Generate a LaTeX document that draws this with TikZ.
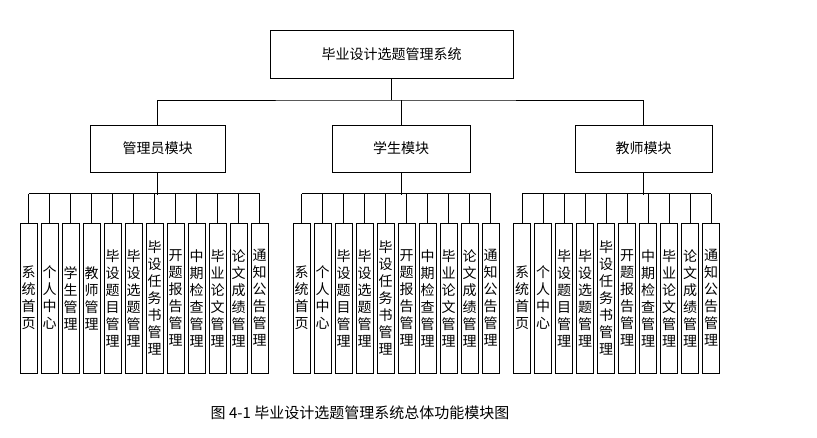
\documentclass[tikz,border=0pt]{standalone}
\usepackage{fontspec}
\setmainfont{Liberation Serif}
\newfontfamily\cjk{Noto Sans CJK SC}
\begin{document}
\begin{tikzpicture}[x=1pt,y=-1pt,
  box/.style={draw,line width=0.8pt,inner sep=0,font=\cjk\fontsize{14}{16}\selectfont},
  leaf/.style={draw,line width=0.8pt,minimum width=17pt,minimum height=150pt,inner sep=0,align=center,font=\cjk\fontsize{14}{17}\selectfont},
  ln/.style={line width=0.8pt}]
\useasboundingbox (0,0) rectangle (817,438);
\fill[white] (0,0) rectangle (817,438);
\node[box,minimum width=243pt,minimum height=48pt] (root) at (391.5,54) {毕业设计选题管理系统};
\node[box,minimum width=135pt,minimum height=47pt] (m1) at (157.5,148.5) {管理员模块};
\node[box,minimum width=138pt,minimum height=47pt] (m2) at (401,148.5) {学生模块};
\node[box,minimum width=137pt,minimum height=47pt] (m3) at (643.5,148.5) {教师模块};
\coordinate (b) at (391.5,100);
\draw[ln] (root.south) -- (b);
\draw[ln] (m1.north) |- (b) -| (m3.north);
\draw[ln] (m2.north) -- (m2.north |- b);
\newcommand\leafgroup[4]{% module, start x, count, prefix
  \foreach \i in {1,...,#3}{%
    \pgfmathsetmacro\xx{#2+21*(\i-1)}%
    \ifnum#3=12 \pgfmathtruncatemacro\k{\i-1}\else
      \pgfmathtruncatemacro\k{\i<3 ? \i-1 : \i+1}\fi
    \node[leaf] (#4\i) at (\xx,298) {\csname lbl\k\endcsname};
    \draw[ln] (#4\i.north) -- ++(0,-29);
  }
  \draw[ln] (#1.south) -- ++(0,23);
  \draw[ln] ([yshift=29pt]#41.north) -- ([yshift=29pt]#4#3.north);
}
\expandafter\def\csname lbl0\endcsname{系\\统\\首\\页}
\expandafter\def\csname lbl1\endcsname{个\\人\\中\\心}
\expandafter\def\csname lbl2\endcsname{学\\生\\管\\理}
\expandafter\def\csname lbl3\endcsname{教\\师\\管\\理}
\expandafter\def\csname lbl4\endcsname{毕\\设\\题\\目\\管\\理}
\expandafter\def\csname lbl5\endcsname{毕\\设\\选\\题\\管\\理}
\expandafter\def\csname lbl6\endcsname{毕\\设\\任\\务\\书\\管\\理}
\expandafter\def\csname lbl7\endcsname{开\\题\\报\\告\\管\\理}
\expandafter\def\csname lbl8\endcsname{中\\期\\检\\查\\管\\理}
\expandafter\def\csname lbl9\endcsname{毕\\业\\论\\文\\管\\理}
\expandafter\def\csname lbl10\endcsname{论\\文\\成\\绩\\管\\理}
\expandafter\def\csname lbl11\endcsname{通\\知\\公\\告\\管\\理}
\leafgroup{m1}{28.5}{12}{a}
\leafgroup{m2}{301.5}{10}{s}
\leafgroup{m3}{522}{10}{t}
\node[font=\cjk\fontsize{15}{18}\selectfont] (cap) at (360,413) {图 4-1 毕业设计选题管理系统总体功能模块图};
\end{tikzpicture}
\end{document}
